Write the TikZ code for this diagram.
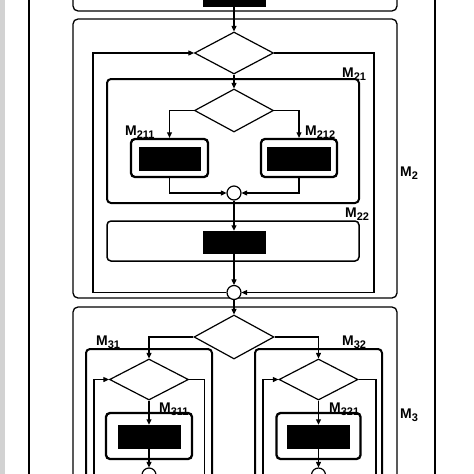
\documentclass[tikz,border=0pt]{standalone}
\usepackage{fontspec}
\setsansfont{Liberation Sans}
\usetikzlibrary{shapes.geometric,arrows.meta}
\newcommand{\modl}[1]{M\raisebox{-3.5pt}{\fontsize{11}{11}\selectfont #1}}
\tikzset{
  mbox/.style={draw,rectangle,rounded corners=5pt,line width=1.3pt,inner sep=0pt},
  subbox/.style={draw,rectangle,rounded corners=4pt,line width=2pt,inner sep=0pt},
  plainbox/.style={draw,rectangle,rounded corners=4pt,line width=1.5pt,inner sep=0pt},
  leafbox/.style={draw,rectangle,rounded corners=4pt,line width=2.3pt,inner sep=0pt},
  task/.style={fill=black,rectangle,inner sep=0pt},
  decide/.style={draw,diamond,line width=1.2pt,inner sep=0pt},
  mergept/.style={draw,circle,line width=1.2pt,fill=white,inner sep=0pt,minimum size=14pt},
  flow/.style={line width=1.1pt,-{Triangle[length=5.5pt,width=5pt]}},
  link/.style={line width=1.1pt},
  mlabel/.style={anchor=base west,inner sep=0pt,font=\sffamily\bfseries\fontsize{14}{14}\selectfont}
}
\begin{document}
\begin{tikzpicture}[x=1pt,y=1pt,yscale=-1,xscale=1]
\useasboundingbox (0,0) rectangle (474,474);

%scan edge and outer frame
\fill[gray!35] (0,0) rectangle (5,474);
\draw[line width=1.2pt] (29,-10) -- (29,484);
\draw[line width=1.2pt] (435,-10) -- (435,484);

%modules
\node[mbox, minimum width=324pt, minimum height=51pt] (m1) at (235,-14.5) {};
\node[mbox, minimum width=324pt, minimum height=279pt] (m2) at (235,158.5) {};
\node[mbox, minimum width=324pt, minimum height=213pt] (m3) at (235,413.5) {};
\node[subbox, minimum width=252pt, minimum height=124pt] (m21) at (233,141) {};
\node[plainbox, minimum width=252pt, minimum height=40pt] (m22) at (233,241) {};
\node[leafbox, minimum width=77pt, minimum height=38pt] (m211) at (169.5,158) {};
\node[leafbox, minimum width=76pt, minimum height=38pt] (m212) at (299,158) {};
\node[subbox, minimum width=126pt, minimum height=171pt] (m31) at (149,434.5) {};
\node[subbox, minimum width=127pt, minimum height=171pt] (m32) at (318.5,434.5) {};
\node[leafbox, minimum width=86pt, minimum height=46pt] (m311) at (149,436) {};
\node[leafbox, minimum width=84pt, minimum height=46pt] (m321) at (318.5,436) {};

%tasks
\node[task, minimum width=63pt, minimum height=17pt] (t1) at (234,-1.5) {};
\node[task, minimum width=62pt, minimum height=24pt] (t211) at (169.5,159) {};
\node[task, minimum width=64pt, minimum height=24pt] (t212) at (299,159) {};
\node[task, minimum width=63pt, minimum height=23pt] (t22) at (234,242.5) {};
\node[task, minimum width=63pt, minimum height=24pt] (t311) at (149,437) {};
\node[task, minimum width=63pt, minimum height=24pt] (t321) at (318.5,437) {};

%decisions and merges
\node[decide, minimum width=79pt, minimum height=42pt] (d1) at (234,53) {};
\node[decide, minimum width=79pt, minimum height=43pt] (d2) at (234,110.5) {};
\node[decide, minimum width=80pt, minimum height=44pt] (d3) at (234,337) {};
\node[decide, minimum width=79pt, minimum height=41pt] (d31) at (149,379.5) {};
\node[decide, minimum width=79pt, minimum height=41pt] (d32) at (318.5,379.5) {};
\node[mergept] (c21) at (234,193) {};
\node[mergept] (c2) at (234,292.5) {};
\node[mergept] (c31) at (149,475) {};
\node[mergept] (c32) at (318.5,475) {};

%loop sides
\coordinate (l2) at (93,0);
\coordinate (r2) at (374,0);
\coordinate (l31) at (94,0);
\coordinate (r31) at (204.5,0);
\coordinate (l32) at (263,0);
\coordinate (r32) at (376,0);

%flow of M2
\draw[flow] (t1.south) -- (d1.north);
\draw[flow] (d1.south) -- (d2.north);
\draw[flow] (d2.west) -| (m211.north);
\draw[flow] (d2.east) -| (m212.north);
\draw[flow] (m211.south) |- (c21.west);
\draw[flow] (m212.south) |- (c21.east);
\draw[flow] (c21.south) -- (t22.north);
\draw[flow] (t22.south) -- (c2.north);
\draw[flow] (c2.west) -- (c2.west -| l2) -- (d1.west -| l2) -- (d1.west);
\draw[flow] (d1.east) -- (d1.east -| r2) -- (c2.east -| r2) -- (c2.east);

%flow of M3
\draw[flow] (c2.south) -- (d3.north);
\draw[flow] (d3.west) -| (d31.north);
\draw[flow] (d3.east) -| (d32.north);
\draw[flow] (d31.south) -- (t311.north);
\draw[flow] (d32.south) -- (t321.north);
\draw[flow] (t311.south) -- (c31.north);
\draw[flow] (t321.south) -- (c32.north);
\draw[flow] (c31.west) -- (c31.west -| l31) -- (d31.west -| l31) -- (d31.west);
\draw[link] (d31.east) -- (d31.east -| r31) -- (c31.east -| r31) -- (c31.east);
\draw[flow] (c32.west) -- (c32.west -| l32) -- (d32.west -| l32) -- (d32.west);
\draw[link] (d32.east) -- (d32.east -| r32) -- (c32.east -| r32) -- (c32.east);

%labels
\node[mlabel] (n21) at (342,77) {\modl{21}};
\node[mlabel] (n211) at (125,135) {\modl{211}};
\node[mlabel] (n212) at (305,135) {\modl{212}};
\node[mlabel] (n22) at (345,217) {\modl{22}};
\node[mlabel] (n2) at (400,176) {\modl{2}};
\node[mlabel] (n31) at (96,345) {\modl{31}};
\node[mlabel] (n32) at (342,345) {\modl{32}};
\node[mlabel] (n311) at (159,412) {\modl{311}};
\node[mlabel] (n321) at (329,412) {\modl{321}};
\node[mlabel] (n3) at (400,418) {\modl{3}};

\end{tikzpicture}
\end{document}
